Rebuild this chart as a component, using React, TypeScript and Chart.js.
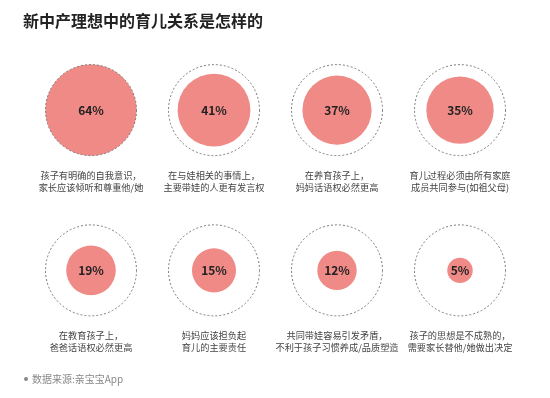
import React, { useEffect, useRef } from "react";
import { Chart, registerables } from "chart.js";
Chart.register(...registerables);

const TITLE = "新中产理想中的育儿关系是怎样的";
const SOURCE = "数据来源:亲宝宝App";
const categories: string[][] = [
  ["孩子有明确的自我意识，", "家长应该倾听和尊重他/她"],
  ["在与娃相关的事情上，", "主要带娃的人更有发言权"],
  ["在养育孩子上，", "妈妈话语权必然更高"],
  ["育儿过程必须由所有家庭", "成员共同参与(如祖父母)"],
  ["在教育孩子上，", "爸爸话语权必然更高"],
  ["妈妈应该担负起", "育儿的主要责任"],
  ["共同带娃容易引发矛盾，", "不利于孩子习惯养成/品质塑造"],
  ["孩子的思想是不成熟的，", "需要家长替他/她做出决定"],
];
const values = [64, 41, 37, 35, 19, 15, 12, 5];
const maxValue = 64;
const columns = 4;

const FILL = "#F08A86";
const DASH = "#7a7a7a";
const FONT = '"Noto Sans CJK SC", "Noto Sans", sans-serif';

export default function App() {
  const ref = useRef<HTMLCanvasElement | null>(null);
  useEffect(() => {
    if (!ref.current) return;
    const pts = values.map((v, i) => ({ x: i % columns, y: Math.floor(i / columns), v }));
    const outerR = (chart: any) => {
      const xs = chart.scales.x;
      const r = Math.abs(xs.getPixelForValue(1) - xs.getPixelForValue(0)) * 0.37;
      return isFinite(r) ? r : 0;
    };
    const dashPlugin = {
      id: "dash",
      beforeDatasetDraw(chart: any, args: any) {
        if (args.index === 0) {
          chart.ctx.save();
          chart.ctx.setLineDash([2, 2]);
        }
      },
      afterDatasetDraw(chart: any, args: any) {
        if (args.index === 0) chart.ctx.restore();
      },
    };
    const textPlugin = {
      id: "texts",
      afterDatasetsDraw(chart: any) {
        const ctx = chart.ctx;
        const meta = chart.getDatasetMeta(1);
        const R = outerR(chart);
        ctx.save();
        ctx.textAlign = "center";
        ctx.textBaseline = "middle";
        meta.data.forEach((el: any, i: number) => {
          ctx.fillStyle = "#222";
          ctx.font = `bold 12px ${FONT}`;
          ctx.fillText(values[i] + "%", el.x, el.y + 0.5);
          ctx.fillStyle = "#444";
          ctx.font = `9.2px ${FONT}`;
          categories[i].forEach((line, j) => {
            ctx.fillText(line, el.x, el.y + R + 19.5 + j * 12);
          });
        });
        ctx.restore();
      },
    };
    const chart = new Chart(ref.current, {
      type: "scatter",
      data: {
        datasets: [
          {
            data: pts.map((p) => ({ x: p.x, y: p.y })),
            pointBackgroundColor: "rgba(0,0,0,0)",
            pointBorderColor: DASH,
            pointBorderWidth: 1,
            pointRadius: (c: any) => outerR(c.chart),
            clip: false,
          } as any,
          {
            data: pts,
            pointBackgroundColor: FILL,
            pointBorderColor: FILL,
            pointBorderWidth: 0,
            pointRadius: (c: any) => outerR(c.chart) * Math.sqrt((c.raw?.v ?? 0) / maxValue),
            clip: false,
          } as any,
        ],
      },
      options: {
        responsive: false,
        animation: false,
        events: [],
        layout: { padding: { left: 29.5, right: 28.5, top: 30, bottom: 47.5 } },
        scales: {
          x: { type: "linear", min: -0.5, max: 3.5, display: false },
          y: { type: "linear", min: -0.5, max: 1.5, reverse: true, display: false },
        },
        plugins: { legend: { display: false }, tooltip: { enabled: false } },
      },
      plugins: [dashPlugin, textPlugin],
    });
    return () => chart.destroy();
  }, []);
  return (
    <div style={{ position: "absolute", left: 0, top: 0, width: 550, height: 398, background: "#fff", fontFamily: FONT }}>
      <canvas ref={ref} width={550} height={398} style={{ position: "absolute", left: 0, top: 0 }} />
      <div style={{ position: "absolute", left: 23, top: 12, fontSize: 16, lineHeight: "16px", fontWeight: "bold", color: "#222", whiteSpace: "nowrap" }}>
        {TITLE}
      </div>
      <div style={{ position: "absolute", left: 24, top: 377, width: 4, height: 4, borderRadius: 2, background: "#888" }} />
      <div style={{ position: "absolute", left: 32, top: 373, fontSize: 10, lineHeight: "12px", color: "#888", whiteSpace: "nowrap" }}>
        {SOURCE}
      </div>
    </div>
  );
}
